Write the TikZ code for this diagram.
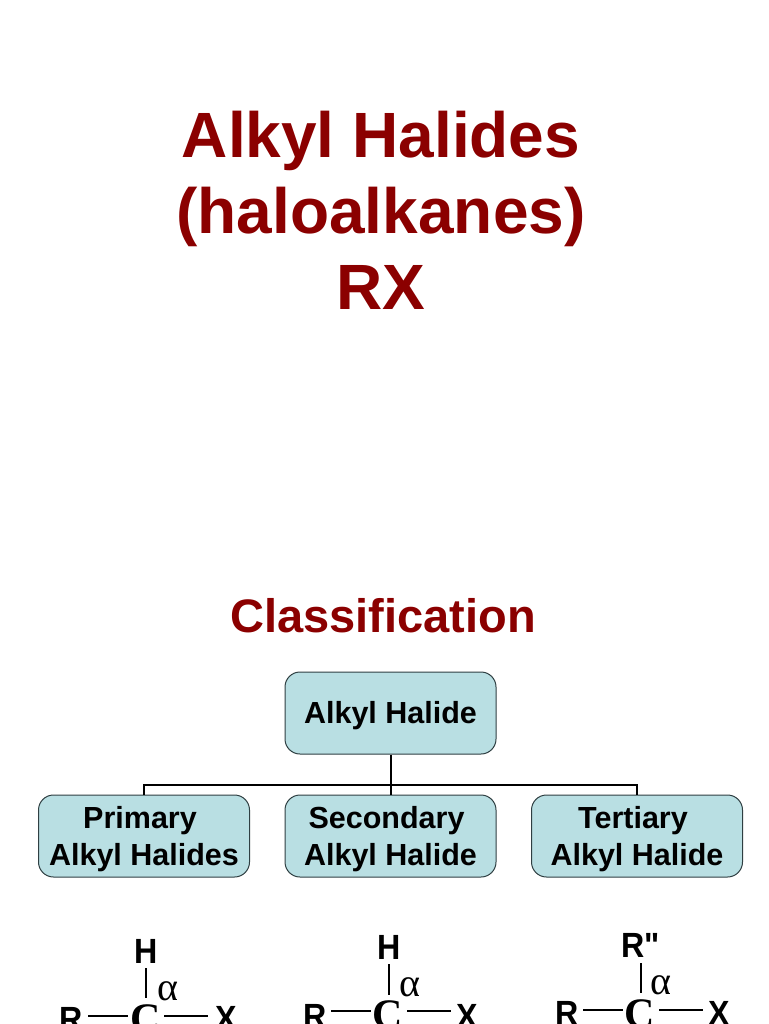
\documentclass[tikz,border=0pt]{standalone}
\usepackage{fontspec}
\setmainfont{Liberation Sans}
\newfontfamily\serifchem{Liberation Serif}
\newfontfamily\atomfont[FakeStretch=0.92]{Liberation Sans}
\definecolor{titlered}{HTML}{8B0000}
\definecolor{boxfill}{HTML}{B9DFE3}
\definecolor{boxline}{HTML}{2F3F42}
\newcommand{\droptext}{\rule{0pt}{28pt}}
\newcommand{\leftshift}{\hspace*{8pt}}
\tikzset{
  x=1pt,y=-1pt,
  titletext/.style={text=titlered,font=\fontsize{64}{76}\selectfont\bfseries,align=center,inner sep=0},
  subtitletext/.style={text=titlered,font=\fontsize{47}{56}\selectfont\bfseries,inner sep=0},
  classbox/.style={draw=boxline,line width=1pt,fill=boxfill,rounded corners=15pt,minimum width=211pt,minimum height=82pt,inner sep=0,align=center,font=\fontsize{30.5}{37}\selectfont\bfseries},
  link/.style={line width=2pt,black},
  atom/.style={font=\atomfont\fontsize{35}{35}\selectfont\bfseries,inner sep=0,anchor=base},
  carbon/.style={font=\serifchem\fontsize{42}{42}\selectfont\bfseries,inner sep=0,anchor=base},
  alphalabel/.style={font=\serifchem\fontsize{40}{40}\selectfont,inner sep=0,anchor=base},
  bond/.style={line width=1.8pt,black},
}
\begin{document}
\begin{tikzpicture}
\useasboundingbox (0,0) rectangle (768,1024);
\clip (0,0) rectangle (768,1024);
\node[titletext] (title) at (381,210) {Alkyl Halides\\(haloalkanes)\\RX};
\node[subtitletext] (sub) at (383,616) {Classification};
\node[classbox] (top) at (390.5,713) {\droptext Alkyl Halide};
\node[classbox] (prim) at (144,836) {\droptext Primary\leftshift\\Alkyl Halides};
\node[classbox] (sec) at (390.5,836) {\droptext Secondary\leftshift\\Alkyl Halide};
\node[classbox] (ter) at (637,836) {\droptext Tertiary\leftshift\\Alkyl Halide};
\coordinate (bus) at (390.5,785);
\draw[link] (top.south) -- (sec.north);
\draw[link] (prim.north) -- (prim.north |- bus) -- (ter.north |- bus) -- (ter.north);
% primary
\node[atom] (h1) at (146,963) {H};
\node[atom] (r1) at (71,1031) {R};
\node[carbon] (c1) at (146,1032) {C};
\node[atom] (x1) at (226,1030) {X};
\node[alphalabel] (a1) at (168,1000) {α};
\coordinate (v1a) at (146,968); \coordinate (v1b) at (146,998);
\coordinate (l1a) at (88,1016); \coordinate (l1b) at (128,1016);
\coordinate (m1a) at (164,1016); \coordinate (m1b) at (208,1016);
\draw[bond] (v1a) -- (v1b) (l1a) -- (l1b) (m1a) -- (m1b);
% secondary
\node[atom] (h2) at (389,959) {H};
\node[atom] (r2) at (315,1028) {R};
\node[carbon] (c2) at (388,1028) {C};
\node[atom] (x2) at (467,1028) {X};
\node[alphalabel] (a2) at (410,996) {α};
\coordinate (v2a) at (389,964); \coordinate (v2b) at (389,995);
\coordinate (l2a) at (331,1011); \coordinate (l2b) at (371,1011);
\coordinate (m2a) at (407,1011); \coordinate (m2b) at (451,1011);
\draw[bond] (v2a) -- (v2b) (l2a) -- (l2b) (m2a) -- (m2b);
% tertiary
\node[atom] (h3) at (641,957) {R"};
\node[atom] (r3) at (567,1025) {R};
\node[carbon] (c3) at (640,1027) {C};
\node[atom] (x3) at (719,1025) {X};
\node[alphalabel] (a3) at (661,994) {α};
\coordinate (v3a) at (641,963); \coordinate (v3b) at (641,993);
\coordinate (l3a) at (583,1010); \coordinate (l3b) at (623,1010);
\coordinate (m3a) at (659,1010); \coordinate (m3b) at (703,1010);
\draw[bond] (v3a) -- (v3b) (l3a) -- (l3b) (m3a) -- (m3b);
\end{tikzpicture}
\end{document}
